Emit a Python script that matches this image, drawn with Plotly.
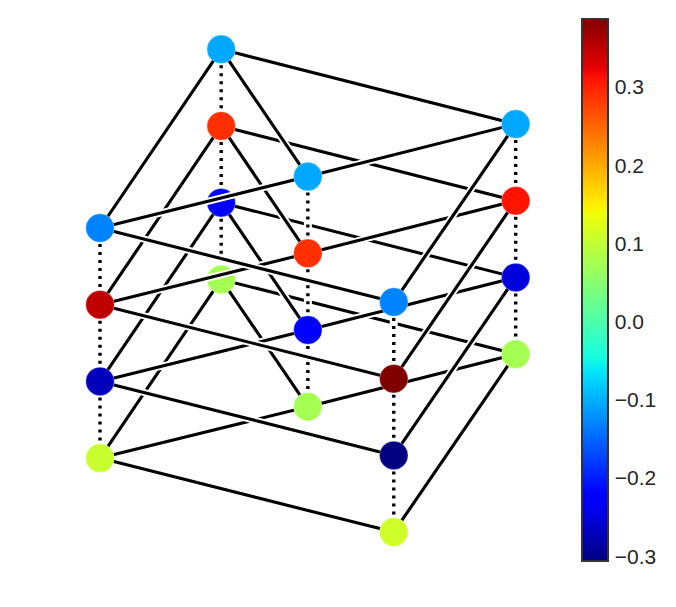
import numpy as np
import plotly.graph_objects as go

# Multilayer network: 5 nodes repeated on 4 layers, coloured by value.
node_names = ["A", "B", "C", "D", "E"]
node_x = [0.0, 1.58, 2.71, 3.83, 5.42]
node_y = [0.0, 2.33, 0.67, -0.965, 1.355]
layer_offsets = [0.0, -1.0, -2.0, -3.0]

edges = [("A", "B"), ("A", "C"), ("A", "D"), ("B", "C"), ("B", "E"), ("C", "E"), ("D", "E")]

# node value per layer, in node_names order
layer_0_values = [-0.13, -0.105, -0.105, -0.13, -0.105]
layer_1_values = [0.35, 0.29, 0.29, 0.387, 0.31]
layer_2_values = [-0.27, -0.225, -0.225, -0.306, -0.25]
layer_3_values = [0.105, 0.075, 0.075, 0.11, 0.075]

cbar_ticks = [-0.3, -0.2, -0.1, 0.0, 0.1, 0.2, 0.3]
cbar_ticktext = ["\u22120.3", "\u22120.2", "\u22120.1", "0.0", "0.1", "0.2", "0.3"]


def jet_colorscale() -> list:
    """matplotlib's jet, rebuilt from its segment data."""
    red = [(0, 0), (0.35, 0), (0.66, 1), (0.89, 1), (1, 0.5)]
    green = [(0, 0), (0.125, 0), (0.375, 1), (0.64, 1), (0.91, 0), (1, 0)]
    blue = [(0, 0.5), (0.11, 1), (0.34, 1), (0.65, 0), (1, 0)]
    stops = sorted({p for seg in (red, green, blue) for p, _ in seg})
    out = []
    for s in stops:
        r = np.interp(s, *zip(*red))
        g = np.interp(s, *zip(*green))
        b = np.interp(s, *zip(*blue))
        out.append([s, f"rgb({round(r * 255)},{round(g * 255)},{round(b * 255)})"])
    return out


def main() -> None:
    values = [layer_0_values, layer_1_values, layer_2_values, layer_3_values]
    all_vals = [v for row in values for v in row]
    cmin, cmax = min(all_vals), max(all_vals)
    cscale = jet_colorscale()

    idx = {n: i for i, n in enumerate(node_names)}
    depth = {n: -node_y[i] for n, i in idx.items()}  # higher in the plane = further back

    # painter's order: back to front, each node after its own edges
    items = []
    for a, b in edges:
        items.append(((depth[a] + depth[b]) / 2, 1, "edge", (a, b)))
    for n in node_names:
        items.append((depth[n], 0, "dots", n))
        incident = [(depth[a] + depth[b]) / 2 for a, b in edges if n in (a, b)]
        items.append((max([depth[n]] + incident), 2, "node", n))
    items.sort(key=lambda t: (t[0], t[1]))

    fig = go.Figure()
    for _, _, kind, payload in items:
        if kind == "edge":
            a, b = payload
            xs, ys = [], []
            for off in layer_offsets:
                xs += [node_x[idx[a]], node_x[idx[b]], None]
                ys += [node_y[idx[a]] + off, node_y[idx[b]] + off, None]
            fig.add_trace(go.Scatter(x=xs, y=ys, mode="lines", line=dict(color="white", width=7),
                                     hoverinfo="skip", showlegend=False))
            fig.add_trace(go.Scatter(x=xs, y=ys, mode="lines", line=dict(color="black", width=3.1),
                                     hoverinfo="skip", showlegend=False))
        elif kind == "dots":
            i = idx[payload]
            xs, ys = [], []
            for k in range(len(layer_offsets) - 1):
                xs += [node_x[i], node_x[i], None]
                ys += [node_y[i] + layer_offsets[k], node_y[i] + layer_offsets[k + 1], None]
            fig.add_trace(go.Scatter(x=xs, y=ys, mode="lines", line=dict(color="white", width=8),
                                     hoverinfo="skip", showlegend=False))
            fig.add_trace(go.Scatter(x=xs, y=ys, mode="lines",
                                     line=dict(color="black", width=3.4, dash="3px,5px"),
                                     hoverinfo="skip", showlegend=False))
        else:
            i = idx[payload]
            fig.add_trace(
                go.Scatter(
                    x=[node_x[i]] * len(layer_offsets),
                    y=[node_y[i] + off for off in layer_offsets],
                    mode="markers",
                    marker=dict(
                        size=28.5,
                        color=[row[i] for row in values],
                        colorscale=cscale,
                        cmin=cmin,
                        cmax=cmax,
                        line=dict(color="rgba(255,255,255,0.35)", width=1),
                        showscale=payload == "D",
                        colorbar=dict(
                            thickness=26,
                            len=0.893,
                            lenmode="fraction",
                            x=582 / 676,
                            xanchor="left",
                            xpad=0,
                            y=1 - 290 / 607,
                            yanchor="middle",
                            ypad=0,
                            outlinewidth=2,
                            outlinecolor="#333333",
                            tickvals=cbar_ticks,
                            ticktext=cbar_ticktext,
                            ticks="outside",
                            ticklen=2,
                            tickcolor="rgba(0,0,0,0)",
                            tickfont=dict(family="Liberation Sans, Arial, sans-serif", size=21, color="#262626"),
                        ),
                    ),
                    hovertemplate=payload + ": %{marker.color:.3f}<extra></extra>",
                    showlegend=False,
                )
            )

    px_per_unit = 76.7
    fig.update_layout(
        width=676,
        height=607,
        margin=dict(l=0, r=0, t=0, b=0),
        paper_bgcolor="white",
        plot_bgcolor="white",
        xaxis=dict(range=[-100 / px_per_unit, 576 / px_per_unit], visible=False, fixedrange=True),
        yaxis=dict(range=[-379 / px_per_unit, 228 / px_per_unit], visible=False, fixedrange=True),
    )
    fig.write_html(
        "out.html",
        config={"displayModeBar": False},
        post_script="document.body.style.margin = '0';",
    )


if __name__ == "__main__":
    main()
